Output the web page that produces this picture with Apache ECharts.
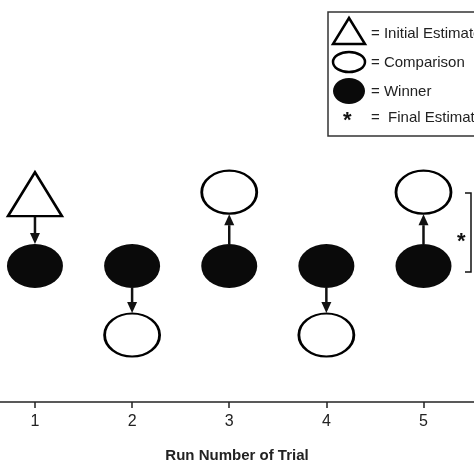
<!DOCTYPE html>
<html><head><meta charset="utf-8">
<script src="https://cdn.jsdelivr.net/npm/echarts@6/dist/echarts.min.js"></script>
<style>html,body{margin:0;padding:0;background:#fff}#c{width:474px;height:474px}</style>
</head><body><div id="c"></div>
<script>
const trials = [1, 2, 3, 4, 5];
const tickLabels = ['1', '2', '3', '4', '5'];
const winner = [[1, 0], [2, 0], [3, 0], [4, 0], [5, 0]];
const initialEstimate = [[1, 1.04]];
const comparison = [[2, -1], [3, 1.07], [4, -1], [5, 1.07]];
// arrows: [trial, fromValue, toValue]
const arrows = [[1, 1.04, 0], [2, 0, -1], [3, 0, 1.07], [4, 0, -1], [5, 0, 1.07]];

const chart = echarts.init(document.getElementById('c'));
const HALF = 22;
chart.setOption({
  animation: false,
  grid: {left: 0, right: 0, top: 0, bottom: 72},
  xAxis: {
    type: 'value', min: 0.64, max: 5.52,
    splitLine: {show: false},
    axisLine: {show: true, onZero: false, lineStyle: {color: '#222', width: 1.5}},
    axisTick: {show: true, customValues: trials, length: 6, inside: false, lineStyle: {color: '#222', width: 1.5}},
    axisLabel: {customValues: trials, formatter: v => tickLabels[trials.indexOf(v)], color: '#222', fontSize: 16, fontFamily: 'Liberation Sans', margin: 12},
    name: 'Run Number of Trial', nameLocation: 'middle', nameGap: 46,
    nameTextStyle: {fontWeight: 'bold', fontSize: 15, color: '#222', fontFamily: 'Liberation Sans'}
  },
  yAxis: {type: 'value', min: -1.971, max: 3.855, show: false},
  series: [
    {type: 'custom', z: 1, data: arrows, renderItem: (p, api) => {
      const x = api.value(0), a = api.value(1), b = api.value(2);
      const p1 = api.coord([x, a]), p2 = api.coord([x, b]);
      const dir = p2[1] > p1[1] ? 1 : -1;
      const y1 = p1[1] + dir * HALF, y2 = p2[1] - dir * HALF;
      const ah = 11, aw = 5;
      return {type: 'group', children: [
        {type: 'line', shape: {x1: p1[0], y1: y1, x2: p2[0], y2: y2 - dir * ah}, style: {stroke: '#111', lineWidth: 2.5}},
        {type: 'polygon', shape: {points: [[p2[0], y2], [p2[0] - aw, y2 - dir * ah], [p2[0] + aw, y2 - dir * ah]]}, style: {fill: '#111'}}
      ]};
    }},
    {type: 'scatter', name: 'Winner', data: winner, symbol: 'circle', symbolSize: [56, 44], itemStyle: {color: '#0a0a0a', opacity: 1}, z: 3},
    {type: 'scatter', name: 'Comparison', data: comparison, symbol: 'circle', symbolSize: [55, 43], itemStyle: {color: '#fff', borderColor: '#000', borderWidth: 2.5, opacity: 1}, z: 3},
    {type: 'scatter', name: 'Initial Estimate', data: initialEstimate, symbol: 'triangle', symbolSize: [54, 44], itemStyle: {color: '#fff', borderColor: '#000', borderWidth: 2.5, opacity: 1}, z: 3}
  ],
  graphic: [
    {type: 'rect', shape: {x: 328, y: 12, width: 160, height: 124}, style: {fill: '#fff', stroke: '#333', lineWidth: 1.5}},
    {type: 'polygon', shape: {points: [[349, 18], [333, 44], [365, 44]]}, style: {fill: '#fff', stroke: '#000', lineWidth: 2.5}},
    {type: 'ellipse', shape: {cx: 349, cy: 62, rx: 16, ry: 10}, style: {fill: '#fff', stroke: '#000', lineWidth: 2.5}},
    {type: 'ellipse', shape: {cx: 349, cy: 91, rx: 16, ry: 13}, style: {fill: '#0a0a0a'}},
    {type: 'text', style: {x: 343, y: 110, text: '*', fontSize: 22, fontWeight: 'bold', fill: '#111', fontFamily: 'Liberation Sans'}},
    {type: 'text', style: {x: 371, y: 26, text: '= Initial Estimate', fontSize: 15, fill: '#222', fontFamily: 'Liberation Sans'}},
    {type: 'text', style: {x: 371, y: 55, text: '= Comparison', fontSize: 15, fill: '#222', fontFamily: 'Liberation Sans'}},
    {type: 'text', style: {x: 371, y: 84, text: '= Winner', fontSize: 15, fill: '#222', fontFamily: 'Liberation Sans'}},
    {type: 'text', style: {x: 371, y: 110, text: '=  Final Estimate', fontSize: 15, fill: '#222', fontFamily: 'Liberation Sans'}},
    {type: 'polyline', shape: {points: [[465, 193], [471, 193], [471, 272], [465, 272]]}, style: {stroke: '#111', lineWidth: 1.5, fill: null}},
    {type: 'text', style: {x: 457, y: 231, text: '*', fontSize: 22, fontWeight: 'bold', fill: '#111', fontFamily: 'Liberation Sans'}}
  ]
});
</script></body></html>
